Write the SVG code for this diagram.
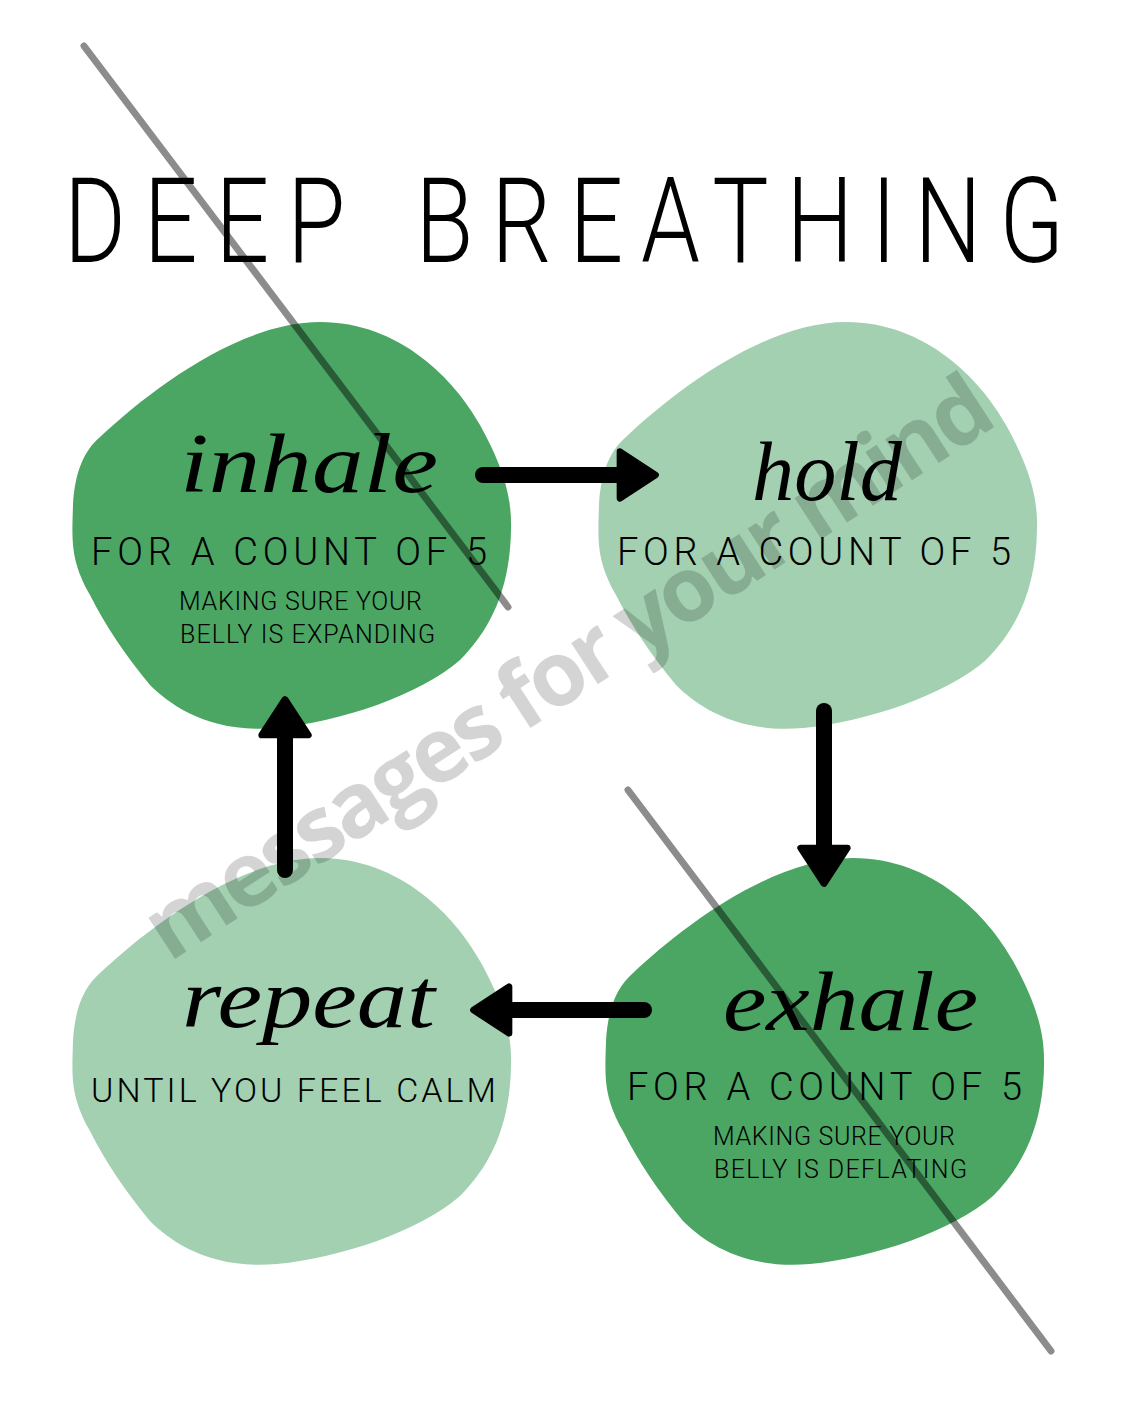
<svg xmlns="http://www.w3.org/2000/svg" xmlns:xlink="http://www.w3.org/1999/xlink" width="1140" height="1425" viewBox="0 0 1140 1425">
  <style>
    .dark { fill: #4ba663; }
    .light { fill: #a2d0b0; }
    .title { font-family: Roboto, "Liberation Sans", sans-serif; font-weight: 300; font-size: 118px; fill: #000; }
    .script { font-family: "Liberation Serif", serif; font-style: italic; font-size: 85px; fill: #000; }
    .sub { font-family: Roboto, "Liberation Sans", sans-serif; font-weight: 300; font-size: 38px; fill: #000; }
    .small { font-family: Roboto, "Liberation Sans", sans-serif; font-weight: 300; font-size: 25px; fill: #000; }
    .conn { stroke: #000; stroke-width: 16; stroke-linecap: round; fill: none; }
    .slash { stroke: #000; stroke-opacity: 0.45; stroke-width: 7; stroke-linecap: round; }
    .wm { font-family: "Open Sans", "DejaVu Sans", sans-serif; font-weight: 700; font-size: 90px; fill: #000; fill-opacity: 0.17; }
  </style>
  <defs>
    <path id="blob" d="M 100 437 C 150 390, 240 322, 320 322 C 400 322, 455 380, 480 425 C 505 470, 512 500, 511 530 C 510 590, 490 630, 460 660 C 420 695, 340 722, 277 728 C 210 734, 170 705, 150 685 C 125 655, 105 625, 90 595 C 70 560, 72 540, 73 505 C 75 470, 85 450, 100 437 Z"/>
    <marker id="head" markerUnits="userSpaceOnUse" markerWidth="50" markerHeight="60" viewBox="-5 -27 45 54" refX="0" refY="0" orient="auto">
      <path d="M0,-21 L32,0 L0,21 Z" fill="#000" stroke="#000" stroke-width="6" stroke-linejoin="round"/>
    </marker>
  </defs>
  <rect width="1140" height="1425" fill="#fff"/>

  <text class="title" transform="translate(64,262) scale(0.8,1)" letter-spacing="22.5" word-spacing="14">DEEP BREATHING</text>

  <g id="inhale">
    <use xlink:href="#blob" class="dark"/>
    <text class="script" x="180" y="492" textLength="258" lengthAdjust="spacingAndGlyphs">inhale</text>
    <text class="sub" x="91" y="565" textLength="396" lengthAdjust="spacing">FOR A COUNT OF 5</text>
    <text class="small" x="179" y="610" textLength="243" lengthAdjust="spacing">MAKING SURE YOUR</text>
    <text class="small" x="180" y="643" textLength="255" lengthAdjust="spacing">BELLY IS EXPANDING</text>
  </g>

  <g id="hold">
    <use xlink:href="#blob" class="light" transform="translate(526,0)"/>
    <text class="script" x="752" y="500" textLength="150" lengthAdjust="spacingAndGlyphs">hold</text>
    <text class="sub" x="617" y="565" textLength="394" lengthAdjust="spacing">FOR A COUNT OF 5</text>
  </g>

  <g id="repeat">
    <use xlink:href="#blob" class="light" transform="translate(0,536)"/>
    <text class="script" x="182" y="1027" textLength="253" lengthAdjust="spacingAndGlyphs">repeat</text>
    <text class="sub" x="91" y="1102" textLength="405" lengthAdjust="spacing" style="font-size:34px">UNTIL YOU FEEL CALM</text>
  </g>

  <g id="exhale">
    <use xlink:href="#blob" class="dark" transform="translate(533,536)"/>
    <text class="script" x="723" y="1030" textLength="255" lengthAdjust="spacingAndGlyphs">exhale</text>
    <text class="sub" x="627" y="1100" textLength="395" lengthAdjust="spacing">FOR A COUNT OF 5</text>
    <text class="small" x="713" y="1145" textLength="242" lengthAdjust="spacing">MAKING SURE YOUR</text>
    <text class="small" x="714" y="1178" textLength="253" lengthAdjust="spacing">BELLY IS DEFLATING</text>
  </g>

  <g id="connectors">
    <line class="conn" x1="483" y1="475" x2="620" y2="475" marker-end="url(#head)"/>
    <line class="conn" x1="824" y1="711" x2="824" y2="848" marker-end="url(#head)"/>
    <line class="conn" x1="644" y1="1010" x2="509" y2="1010" marker-end="url(#head)"/>
    <line class="conn" x1="285" y1="870" x2="285" y2="735" marker-end="url(#head)"/>
  </g>

  <g id="overlay">
    <line class="slash" x1="84" y1="46" x2="508" y2="607"/>
    <line class="slash" x1="628" y1="790" x2="1051" y2="1351"/>
    <text class="wm" transform="translate(583,694) rotate(-33)" text-anchor="middle" letter-spacing="-4">messages for your mind</text>
  </g>
</svg>
